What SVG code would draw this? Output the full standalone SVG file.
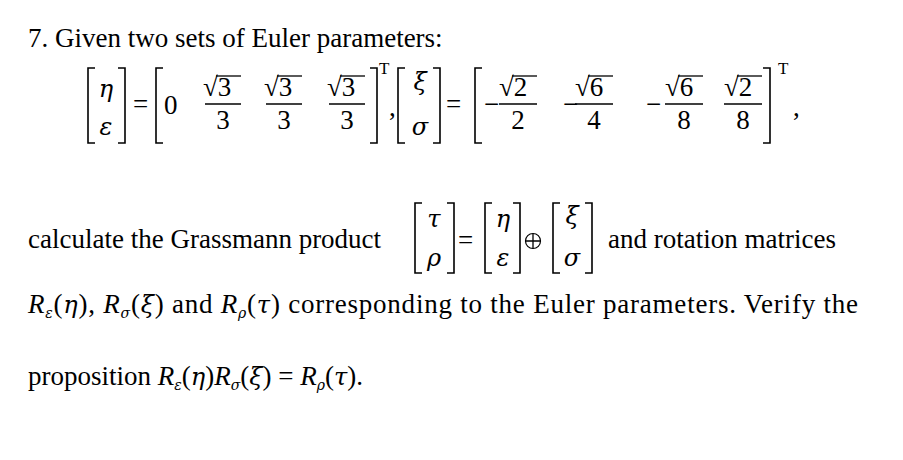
<svg xmlns="http://www.w3.org/2000/svg" width="903" height="460" viewBox="0 0 903 460">
<style>
text{font-family:"Liberation Serif","Times New Roman",serif;font-size:27px;fill:#000}
.i{font-style:italic}
.g{font-family:"DejaVu Serif",serif;font-style:italic;font-size:24px}
.s{font-family:"DejaVu Serif",serif;font-size:14px;font-style:italic}
.b{fill:none;stroke:#000;stroke-width:1.6}
.l{stroke:#000;stroke-width:1.3}
.m{text-anchor:middle}
</style>
<rect width="903" height="460" fill="#fff"/>
<g id="title"><text x="28" y="47">7. Given two sets of Euler parameters:</text></g>
<g id="eq1">
<path class="b" d="M95,68H88V143H95M118,68H125V143H118"/>
<text class="g m" x="106" y="97">η</text><text class="g m" x="106" y="135">ε</text>
<text x="133" y="113">=</text>
<path class="b" d="M163,68H156V143H163M370,68H377V143H370"/>
<text x="164" y="114">0</text>
<g id="f1"><text x="203" y="96">√3</text><line class="l" x1="216" y1="76" x2="241" y2="76"/><line class="l" x1="205" y1="104" x2="241" y2="104"/><text class="m" x="223" y="129">3</text></g>
<g><text x="264" y="96">√3</text><line class="l" x1="277" y1="76" x2="302" y2="76"/><line class="l" x1="266" y1="104" x2="302" y2="104"/><text class="m" x="284" y="129">3</text></g>
<g><text x="327" y="96">√3</text><line class="l" x1="340" y1="76" x2="365" y2="76"/><line class="l" x1="329" y1="104" x2="365" y2="104"/><text class="m" x="347" y="129">3</text></g>
<text x="379" y="74" style="font-size:17px">T</text>
<text x="389" y="116">,</text>
<path class="b" d="M405,68H398V143H405M433,68H440V143H433"/>
<text class="g m" x="420" y="90">ξ</text><text class="g m" x="420" y="135">σ</text>
<text x="446" y="113">=</text>
<path class="b" d="M482,68H475V143H482M763,68H770V143H763"/>
<text x="484" y="113">−</text>
<g><text x="499" y="96">√2</text><line class="l" x1="512" y1="76" x2="537" y2="76"/><line class="l" x1="499" y1="104" x2="537" y2="104"/><text class="m" x="518" y="129">2</text></g>
<text x="563" y="113">−</text>
<g><text x="575" y="96">√6</text><line class="l" x1="588" y1="76" x2="613" y2="76"/><line class="l" x1="575" y1="104" x2="613" y2="104"/><text class="m" x="594" y="129">4</text></g>
<text x="646" y="113">−</text>
<g><text x="665" y="96">√6</text><line class="l" x1="678" y1="76" x2="703" y2="76"/><line class="l" x1="665" y1="104" x2="703" y2="104"/><text class="m" x="684" y="129">8</text></g>
<g><text x="724" y="96">√2</text><line class="l" x1="737" y1="76" x2="762" y2="76"/><line class="l" x1="724" y1="104" x2="762" y2="104"/><text class="m" x="743" y="129">8</text></g>
<text x="778" y="74" style="font-size:17px">T</text>
<text x="793" y="116">,</text>
</g>
<g id="line2">
<text x="28" y="248">calculate the Grassmann product</text>
<path class="b" d="M422,203H415V273H422M447,203H454V273H447"/>
<text class="g m" x="434" y="227">τ</text><text class="g m" x="434" y="266">ρ</text>
<text x="458" y="249">=</text>
<path class="b" d="M492,203H485V273H492M513,203H520V273H513"/>
<text class="g m" x="503" y="227">η</text><text class="g m" x="503" y="266">ε</text>
<circle cx="533" cy="241" r="7.5" class="b" style="stroke-width:1.2"/><path class="l" d="M525.5,241H540.5M533,233.5V248.5"/>
<path class="b" d="M560,203H553V273H560M585,203H592V273H585"/>
<text class="g m" x="572" y="224">ξ</text><text class="g m" x="572" y="266">σ</text>
<text x="608" y="248">and rotation matrices</text>
</g>
<g id="line3">
<text x="28" y="313" textLength="830" lengthAdjust="spacing"><tspan class="i">R</tspan><tspan class="s" dy="5">ε</tspan><tspan dy="-5">(</tspan><tspan class="g">η</tspan>), <tspan class="i">R</tspan><tspan class="s" dy="5">σ</tspan><tspan dy="-5">(</tspan><tspan class="g">ξ</tspan>) and <tspan class="i">R</tspan><tspan class="s" dy="5">ρ</tspan><tspan dy="-5">(</tspan><tspan class="g">τ</tspan>) corresponding to the Euler parameters. Verify the</text>
</g>
<g id="line4">
<text x="28" y="385">proposition <tspan class="i">R</tspan><tspan class="s" dy="5">ε</tspan><tspan dy="-5">(</tspan><tspan class="g">η</tspan>)<tspan class="i">R</tspan><tspan class="s" dy="5">σ</tspan><tspan dy="-5">(</tspan><tspan class="g">ξ</tspan>) = <tspan class="i">R</tspan><tspan class="s" dy="5">ρ</tspan><tspan dy="-5">(</tspan><tspan class="g">τ</tspan>).</text>
</g>
</svg>
